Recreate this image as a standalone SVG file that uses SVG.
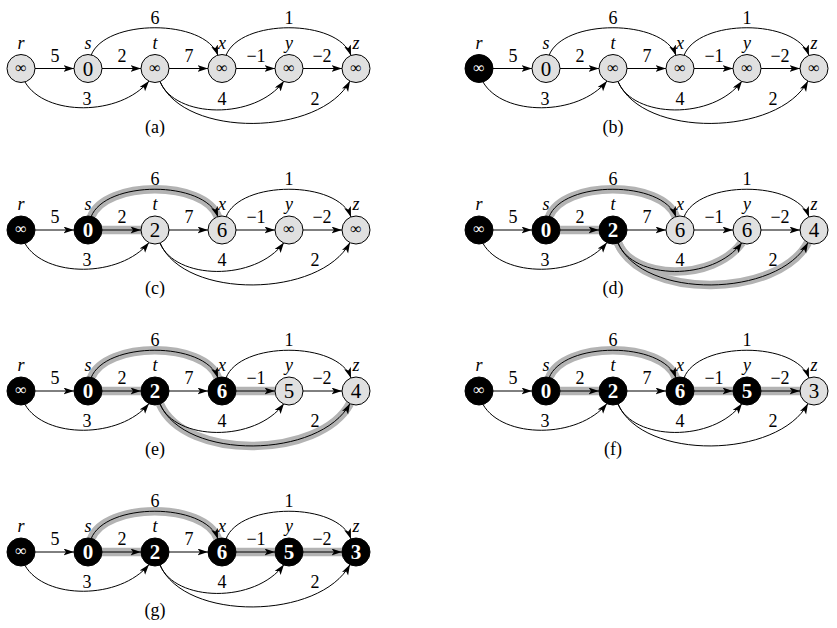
<svg xmlns="http://www.w3.org/2000/svg" width="837" height="628" viewBox="0 0 837 628">
<style>
.bg{fill:#fff}
.e{fill:none;stroke:#000;stroke-width:1;marker-end:url(#ah)}
.b{fill:none;stroke:#b3b3b3;stroke-width:8.5}
.ng circle{fill:#e0e0e0;stroke:#000;stroke-width:1}
.nb circle{fill:#000;stroke:#000;stroke-width:1}
text{font-family:"Liberation Serif","Times New Roman",serif;text-anchor:middle;fill:#000}
.v{font-size:21px}
.nb .v{fill:#fff;font-weight:bold}
.inf{font-size:16px;font-weight:normal}
.nb .inf{font-weight:normal}
.l{font-size:18px}
.nm{font-size:18px;font-style:italic}
.cap{font-size:18px}
</style>
<defs>
<marker id="ah" markerUnits="userSpaceOnUse" markerWidth="12" markerHeight="8" refX="10.5" refY="3.5" orient="auto">
<path d="M0,0 L10.5,3.5 L0,7 L2.5,3.5 z" fill="#000"/>
</marker>
</defs>
<rect class="bg" x="0" y="0" width="837" height="628"/>

<!-- Panel (a) -->
<g id="panel-a" transform="translate(0,68.5)">
<g id="a-connectors">
<path class="e" d="M35,0 H74"/>
<path class="e" d="M102,0 H141"/>
<path class="e" d="M169,0 H208"/>
<path class="e" d="M236,0 H275"/>
<path class="e" d="M303,0 H342"/>
<path class="e" d="M91,-13 C105,-50 205,-50 218,-13"/>
<path class="e" d="M226,-13 C240,-50 338,-50 351,-13"/>
<path class="e" d="M25,13.5 C45,48 120,48 149,12.5"/>
<path class="e" d="M160,13 C175,50 255,52 284,12.5"/>
<path class="e" d="M160,13 C185,70 320,68 350,12.5"/>
<text class="l" x="55" y="-7">5</text><text class="l" x="122" y="-7">2</text><text class="l" x="189" y="-7">7</text><text class="l" x="256" y="-7">−1</text><text class="l" x="322" y="-7">−2</text>
<text class="l" x="155" y="-45">6</text><text class="l" x="289" y="-45">1</text><text class="l" x="87" y="36">3</text><text class="l" x="222" y="36">4</text><text class="l" x="315" y="36">2</text>
</g>
<g id="a-r" class="ng"><circle cx="21" cy="0" r="14"/><text class="v inf" x="21" y="4">∞</text><text class="nm" x="21" y="-20">r</text></g>
<g id="a-s" class="ng"><circle cx="88" cy="0" r="14"/><text class="v" x="88" y="7">0</text><text class="nm" x="88" y="-20">s</text></g>
<g id="a-t" class="ng"><circle cx="155" cy="0" r="14"/><text class="v inf" x="155" y="4">∞</text><text class="nm" x="155" y="-20">t</text></g>
<g id="a-x" class="ng"><circle cx="222" cy="0" r="14"/><text class="v inf" x="222" y="4">∞</text><text class="nm" x="222" y="-20">x</text></g>
<g id="a-y" class="ng"><circle cx="289" cy="0" r="14"/><text class="v inf" x="289" y="4">∞</text><text class="nm" x="289" y="-20">y</text></g>
<g id="a-z" class="ng"><circle cx="356" cy="0" r="14"/><text class="v inf" x="356" y="4">∞</text><text class="nm" x="356" y="-20">z</text></g>
<text class="cap" x="155" y="64">(a)</text>
</g>

<!-- Panel (b) -->
<g id="panel-b" transform="translate(458,68.5)">
<g id="b-connectors">
<path class="e" d="M35,0 H74"/>
<path class="e" d="M102,0 H141"/>
<path class="e" d="M169,0 H208"/>
<path class="e" d="M236,0 H275"/>
<path class="e" d="M303,0 H342"/>
<path class="e" d="M91,-13 C105,-50 205,-50 218,-13"/>
<path class="e" d="M226,-13 C240,-50 338,-50 351,-13"/>
<path class="e" d="M25,13.5 C45,48 120,48 149,12.5"/>
<path class="e" d="M160,13 C175,50 255,52 284,12.5"/>
<path class="e" d="M160,13 C185,70 320,68 350,12.5"/>
<text class="l" x="55" y="-7">5</text><text class="l" x="122" y="-7">2</text><text class="l" x="189" y="-7">7</text><text class="l" x="256" y="-7">−1</text><text class="l" x="322" y="-7">−2</text>
<text class="l" x="155" y="-45">6</text><text class="l" x="289" y="-45">1</text><text class="l" x="87" y="36">3</text><text class="l" x="222" y="36">4</text><text class="l" x="315" y="36">2</text>
</g>
<g id="b-r" class="nb"><circle cx="21" cy="0" r="14"/><text class="v inf" x="21" y="4">∞</text><text class="nm" x="21" y="-20">r</text></g>
<g id="b-s" class="ng"><circle cx="88" cy="0" r="14"/><text class="v" x="88" y="7">0</text><text class="nm" x="88" y="-20">s</text></g>
<g id="b-t" class="ng"><circle cx="155" cy="0" r="14"/><text class="v inf" x="155" y="4">∞</text><text class="nm" x="155" y="-20">t</text></g>
<g id="b-x" class="ng"><circle cx="222" cy="0" r="14"/><text class="v inf" x="222" y="4">∞</text><text class="nm" x="222" y="-20">x</text></g>
<g id="b-y" class="ng"><circle cx="289" cy="0" r="14"/><text class="v inf" x="289" y="4">∞</text><text class="nm" x="289" y="-20">y</text></g>
<g id="b-z" class="ng"><circle cx="356" cy="0" r="14"/><text class="v inf" x="356" y="4">∞</text><text class="nm" x="356" y="-20">z</text></g>
<text class="cap" x="155" y="64">(b)</text>
</g>

<!-- Panel (c) -->
<g id="panel-c" transform="translate(0,230)">
<g id="c-connectors">
<path class="b" d="M102,0 H141"/>
<path class="b" d="M91,-13 C105,-50 205,-50 218,-13"/>
<path class="e" d="M35,0 H74"/>
<path class="e" d="M102,0 H141"/>
<path class="e" d="M169,0 H208"/>
<path class="e" d="M236,0 H275"/>
<path class="e" d="M303,0 H342"/>
<path class="e" d="M91,-13 C105,-50 205,-50 218,-13"/>
<path class="e" d="M226,-13 C240,-50 338,-50 351,-13"/>
<path class="e" d="M25,13.5 C45,48 120,48 149,12.5"/>
<path class="e" d="M160,13 C175,50 255,52 284,12.5"/>
<path class="e" d="M160,13 C185,70 320,68 350,12.5"/>
<text class="l" x="55" y="-7">5</text><text class="l" x="122" y="-7">2</text><text class="l" x="189" y="-7">7</text><text class="l" x="256" y="-7">−1</text><text class="l" x="322" y="-7">−2</text>
<text class="l" x="155" y="-45">6</text><text class="l" x="289" y="-45">1</text><text class="l" x="87" y="36">3</text><text class="l" x="222" y="36">4</text><text class="l" x="315" y="36">2</text>
</g>
<g id="c-r" class="nb"><circle cx="21" cy="0" r="14"/><text class="v inf" x="21" y="4">∞</text><text class="nm" x="21" y="-20">r</text></g>
<g id="c-s" class="nb"><circle cx="88" cy="0" r="14"/><text class="v" x="88" y="7">0</text><text class="nm" x="88" y="-20">s</text></g>
<g id="c-t" class="ng"><circle cx="155" cy="0" r="14"/><text class="v" x="155" y="7">2</text><text class="nm" x="155" y="-20">t</text></g>
<g id="c-x" class="ng"><circle cx="222" cy="0" r="14"/><text class="v" x="222" y="7">6</text><text class="nm" x="222" y="-20">x</text></g>
<g id="c-y" class="ng"><circle cx="289" cy="0" r="14"/><text class="v inf" x="289" y="4">∞</text><text class="nm" x="289" y="-20">y</text></g>
<g id="c-z" class="ng"><circle cx="356" cy="0" r="14"/><text class="v inf" x="356" y="4">∞</text><text class="nm" x="356" y="-20">z</text></g>
<text class="cap" x="155" y="64">(c)</text>
</g>

<!-- Panel (d) -->
<g id="panel-d" transform="translate(458,230)">
<g id="d-connectors">
<path class="b" d="M102,0 H141"/>
<path class="b" d="M91,-13 C105,-50 205,-50 218,-13"/>
<path class="b" d="M160,13 C175,50 255,52 284,12.5"/>
<path class="b" d="M160,13 C185,70 320,68 350,12.5"/>
<path class="e" d="M35,0 H74"/>
<path class="e" d="M102,0 H141"/>
<path class="e" d="M169,0 H208"/>
<path class="e" d="M236,0 H275"/>
<path class="e" d="M303,0 H342"/>
<path class="e" d="M91,-13 C105,-50 205,-50 218,-13"/>
<path class="e" d="M226,-13 C240,-50 338,-50 351,-13"/>
<path class="e" d="M25,13.5 C45,48 120,48 149,12.5"/>
<path class="e" d="M160,13 C175,50 255,52 284,12.5"/>
<path class="e" d="M160,13 C185,70 320,68 350,12.5"/>
<text class="l" x="55" y="-7">5</text><text class="l" x="122" y="-7">2</text><text class="l" x="189" y="-7">7</text><text class="l" x="256" y="-7">−1</text><text class="l" x="322" y="-7">−2</text>
<text class="l" x="155" y="-45">6</text><text class="l" x="289" y="-45">1</text><text class="l" x="87" y="36">3</text><text class="l" x="222" y="36">4</text><text class="l" x="315" y="36">2</text>
</g>
<g id="d-r" class="nb"><circle cx="21" cy="0" r="14"/><text class="v inf" x="21" y="4">∞</text><text class="nm" x="21" y="-20">r</text></g>
<g id="d-s" class="nb"><circle cx="88" cy="0" r="14"/><text class="v" x="88" y="7">0</text><text class="nm" x="88" y="-20">s</text></g>
<g id="d-t" class="nb"><circle cx="155" cy="0" r="14"/><text class="v" x="155" y="7">2</text><text class="nm" x="155" y="-20">t</text></g>
<g id="d-x" class="ng"><circle cx="222" cy="0" r="14"/><text class="v" x="222" y="7">6</text><text class="nm" x="222" y="-20">x</text></g>
<g id="d-y" class="ng"><circle cx="289" cy="0" r="14"/><text class="v" x="289" y="7">6</text><text class="nm" x="289" y="-20">y</text></g>
<g id="d-z" class="ng"><circle cx="356" cy="0" r="14"/><text class="v" x="356" y="7">4</text><text class="nm" x="356" y="-20">z</text></g>
<text class="cap" x="155" y="64">(d)</text>
</g>

<!-- Panel (e) -->
<g id="panel-e" transform="translate(0,391)">
<g id="e-connectors">
<path class="b" d="M102,0 H141"/>
<path class="b" d="M91,-13 C105,-50 205,-50 218,-13"/>
<path class="b" d="M236,0 H275"/>
<path class="b" d="M160,13 C185,70 320,68 350,12.5"/>
<path class="e" d="M35,0 H74"/>
<path class="e" d="M102,0 H141"/>
<path class="e" d="M169,0 H208"/>
<path class="e" d="M236,0 H275"/>
<path class="e" d="M303,0 H342"/>
<path class="e" d="M91,-13 C105,-50 205,-50 218,-13"/>
<path class="e" d="M226,-13 C240,-50 338,-50 351,-13"/>
<path class="e" d="M25,13.5 C45,48 120,48 149,12.5"/>
<path class="e" d="M160,13 C175,50 255,52 284,12.5"/>
<path class="e" d="M160,13 C185,70 320,68 350,12.5"/>
<text class="l" x="55" y="-7">5</text><text class="l" x="122" y="-7">2</text><text class="l" x="189" y="-7">7</text><text class="l" x="256" y="-7">−1</text><text class="l" x="322" y="-7">−2</text>
<text class="l" x="155" y="-45">6</text><text class="l" x="289" y="-45">1</text><text class="l" x="87" y="36">3</text><text class="l" x="222" y="36">4</text><text class="l" x="315" y="36">2</text>
</g>
<g id="e-r" class="nb"><circle cx="21" cy="0" r="14"/><text class="v inf" x="21" y="4">∞</text><text class="nm" x="21" y="-20">r</text></g>
<g id="e-s" class="nb"><circle cx="88" cy="0" r="14"/><text class="v" x="88" y="7">0</text><text class="nm" x="88" y="-20">s</text></g>
<g id="e-t" class="nb"><circle cx="155" cy="0" r="14"/><text class="v" x="155" y="7">2</text><text class="nm" x="155" y="-20">t</text></g>
<g id="e-x" class="nb"><circle cx="222" cy="0" r="14"/><text class="v" x="222" y="7">6</text><text class="nm" x="222" y="-20">x</text></g>
<g id="e-y" class="ng"><circle cx="289" cy="0" r="14"/><text class="v" x="289" y="7">5</text><text class="nm" x="289" y="-20">y</text></g>
<g id="e-z" class="ng"><circle cx="356" cy="0" r="14"/><text class="v" x="356" y="7">4</text><text class="nm" x="356" y="-20">z</text></g>
<text class="cap" x="155" y="64">(e)</text>
</g>

<!-- Panel (f) -->
<g id="panel-f" transform="translate(458,391)">
<g id="f-connectors">
<path class="b" d="M102,0 H141"/>
<path class="b" d="M91,-13 C105,-50 205,-50 218,-13"/>
<path class="b" d="M236,0 H275"/>
<path class="b" d="M303,0 H342"/>
<path class="e" d="M35,0 H74"/>
<path class="e" d="M102,0 H141"/>
<path class="e" d="M169,0 H208"/>
<path class="e" d="M236,0 H275"/>
<path class="e" d="M303,0 H342"/>
<path class="e" d="M91,-13 C105,-50 205,-50 218,-13"/>
<path class="e" d="M226,-13 C240,-50 338,-50 351,-13"/>
<path class="e" d="M25,13.5 C45,48 120,48 149,12.5"/>
<path class="e" d="M160,13 C175,50 255,52 284,12.5"/>
<path class="e" d="M160,13 C185,70 320,68 350,12.5"/>
<text class="l" x="55" y="-7">5</text><text class="l" x="122" y="-7">2</text><text class="l" x="189" y="-7">7</text><text class="l" x="256" y="-7">−1</text><text class="l" x="322" y="-7">−2</text>
<text class="l" x="155" y="-45">6</text><text class="l" x="289" y="-45">1</text><text class="l" x="87" y="36">3</text><text class="l" x="222" y="36">4</text><text class="l" x="315" y="36">2</text>
</g>
<g id="f-r" class="nb"><circle cx="21" cy="0" r="14"/><text class="v inf" x="21" y="4">∞</text><text class="nm" x="21" y="-20">r</text></g>
<g id="f-s" class="nb"><circle cx="88" cy="0" r="14"/><text class="v" x="88" y="7">0</text><text class="nm" x="88" y="-20">s</text></g>
<g id="f-t" class="nb"><circle cx="155" cy="0" r="14"/><text class="v" x="155" y="7">2</text><text class="nm" x="155" y="-20">t</text></g>
<g id="f-x" class="nb"><circle cx="222" cy="0" r="14"/><text class="v" x="222" y="7">6</text><text class="nm" x="222" y="-20">x</text></g>
<g id="f-y" class="nb"><circle cx="289" cy="0" r="14"/><text class="v" x="289" y="7">5</text><text class="nm" x="289" y="-20">y</text></g>
<g id="f-z" class="ng"><circle cx="356" cy="0" r="14"/><text class="v" x="356" y="7">3</text><text class="nm" x="356" y="-20">z</text></g>
<text class="cap" x="155" y="64">(f)</text>
</g>

<!-- Panel (g) -->
<g id="panel-g" transform="translate(0,552)">
<g id="g-connectors">
<path class="b" d="M102,0 H141"/>
<path class="b" d="M91,-13 C105,-50 205,-50 218,-13"/>
<path class="b" d="M236,0 H275"/>
<path class="b" d="M303,0 H342"/>
<path class="e" d="M35,0 H74"/>
<path class="e" d="M102,0 H141"/>
<path class="e" d="M169,0 H208"/>
<path class="e" d="M236,0 H275"/>
<path class="e" d="M303,0 H342"/>
<path class="e" d="M91,-13 C105,-50 205,-50 218,-13"/>
<path class="e" d="M226,-13 C240,-50 338,-50 351,-13"/>
<path class="e" d="M25,13.5 C45,48 120,48 149,12.5"/>
<path class="e" d="M160,13 C175,50 255,52 284,12.5"/>
<path class="e" d="M160,13 C185,70 320,68 350,12.5"/>
<text class="l" x="55" y="-7">5</text><text class="l" x="122" y="-7">2</text><text class="l" x="189" y="-7">7</text><text class="l" x="256" y="-7">−1</text><text class="l" x="322" y="-7">−2</text>
<text class="l" x="155" y="-45">6</text><text class="l" x="289" y="-45">1</text><text class="l" x="87" y="36">3</text><text class="l" x="222" y="36">4</text><text class="l" x="315" y="36">2</text>
</g>
<g id="g-r" class="nb"><circle cx="21" cy="0" r="14"/><text class="v inf" x="21" y="4">∞</text><text class="nm" x="21" y="-20">r</text></g>
<g id="g-s" class="nb"><circle cx="88" cy="0" r="14"/><text class="v" x="88" y="7">0</text><text class="nm" x="88" y="-20">s</text></g>
<g id="g-t" class="nb"><circle cx="155" cy="0" r="14"/><text class="v" x="155" y="7">2</text><text class="nm" x="155" y="-20">t</text></g>
<g id="g-x" class="nb"><circle cx="222" cy="0" r="14"/><text class="v" x="222" y="7">6</text><text class="nm" x="222" y="-20">x</text></g>
<g id="g-y" class="nb"><circle cx="289" cy="0" r="14"/><text class="v" x="289" y="7">5</text><text class="nm" x="289" y="-20">y</text></g>
<g id="g-z" class="nb"><circle cx="356" cy="0" r="14"/><text class="v" x="356" y="7">3</text><text class="nm" x="356" y="-20">z</text></g>
<text class="cap" x="155" y="64">(g)</text>
</g>
</svg>
